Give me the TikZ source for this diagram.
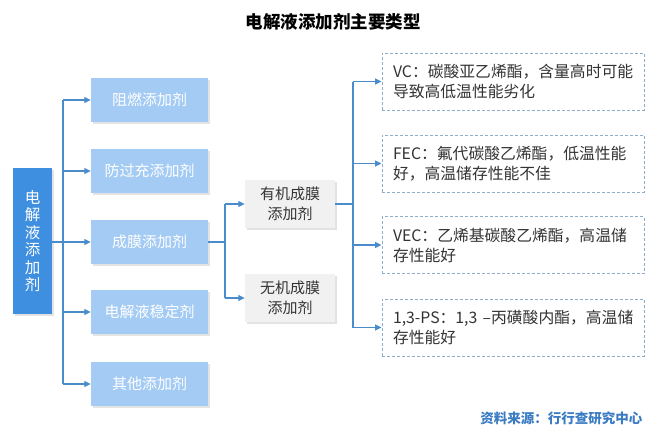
\documentclass[tikz,border=0pt]{standalone}
\usepackage{fontspec}
\newfontfamily\cjk{Noto Sans CJK SC}
\usetikzlibrary{arrows.meta,shadows}
\definecolor{mainblue}{HTML}{3F8FE0}
\definecolor{lightblue}{HTML}{A4CBF4}
\definecolor{linec}{HTML}{4A8CCB}
\definecolor{dashc}{HTML}{8FAECB}
\definecolor{greybox}{HTML}{F1F1F1}
\definecolor{srcblue}{HTML}{3A7BC2}
\definecolor{txt}{HTML}{333333}
\begin{document}
\begin{tikzpicture}[x=1pt,y=-1pt,
  every node/.style={font=\cjk},
  shad/.style={drop shadow={opacity=0.22,shadow xshift=2pt,shadow yshift=-2pt}},
  mainbox/.style={fill=mainblue,text=white,minimum width=39pt,minimum height=146pt,inner sep=0pt,align=center,shad,
    font=\cjk\fontsize{15.5}{17.5}\selectfont},
  lvlone/.style={fill=lightblue,text=white,minimum width=117pt,minimum height=44pt,inner sep=0pt,shad,
    font=\cjk\fontsize{15}{18}\selectfont},
  lvltwo/.style={fill=greybox,text=txt,minimum width=90pt,minimum height=48pt,inner sep=0pt,align=center,shad,
    font=\cjk\fontsize{15}{20}\selectfont},
  descbox/.style={draw=dashc,dashed,line width=0.9pt,dash pattern=on 3pt off 2pt,fill=white,text=txt,
    minimum width=262pt,minimum height=57pt,text width=240pt,align=left,inner xsep=11pt,inner ysep=0pt,
    font=\cjk\fontsize{15.8}{20}\selectfont},
  conn/.style={draw=linec,line width=1.2pt},
  arr/.style={conn,-{Triangle[length=6.5pt,width=6pt]}}
]
\useasboundingbox (0,0) rectangle (659,432);

\node[font=\cjk\bfseries\fontsize{17.5}{20}\selectfont,text=black] (title) at (333,22) {电解液添加剂主要类型};

\node[mainbox] (main) at (32.5,241) {电\\解\\液\\添\\加\\剂};

\node[lvlone] (b1) at (149.5,100) {阻燃添加剂};
\node[lvlone] (b2) at (149.5,171) {防过充添加剂};
\node[lvlone] (b3) at (149.5,242) {成膜添加剂};
\node[lvlone] (b4) at (149.5,312) {电解液稳定剂};
\node[lvlone] (b5) at (149.5,384) {其他添加剂};

\node[lvltwo] (o1) at (290,204) {有机成膜\\添加剂};
\node[lvltwo] (o2) at (290,298) {无机成膜\\添加剂};

\node[descbox] (d1) at (513,81.5) {\mbox{VC：碳酸亚乙烯酯，含量高时可能}\\导致高低温性能劣化};
\node[descbox] (d2) at (513,163.5) {\mbox{FEC：氟代碳酸乙烯酯，低温性能}\\好，高温储存性能不佳};
\node[descbox] (d3) at (513,245) {\mbox{VEC：乙烯基碳酸乙烯酯，高温储}\\存性能好};
\node[descbox] (d4) at (513,327.5) {\mbox{1,3-PS：1,3 –丙磺酸内酯，高温储}\\存性能好};

\node[font=\cjk\bfseries\fontsize{13.5}{16}\selectfont,text=srcblue,anchor=east] (src) at (646,418) {资料来源：行行查研究中心};

% trunk 1
\coordinate (t1) at (63,242);
\draw[conn] (main.east |- t1) -- (t1);
\draw[conn] (t1 |- b1) -- (t1 |- b5);
\foreach \b in {b1,b2,b3,b4,b5} \draw[arr] (t1 |- \b) -- (\b.west);

% trunk 2
\coordinate (t2) at (225,242);
\draw[conn] (b3.east) -- (t2);
\draw[conn] (t2 |- o1) -- (t2 |- o2);
\foreach \b in {o1,o2} \draw[arr] (t2 |- \b) -- (\b.west);

% trunk 3
\coordinate (t3) at (353,204);
\draw[conn] (o1.east) -- (t3);
\draw[conn] (t3 |- d1) -- (t3 |- d4);
\foreach \b in {d1,d2,d3,d4} \draw[arr] (t3 |- \b) -- (\b.west);
\end{tikzpicture}
\end{document}
